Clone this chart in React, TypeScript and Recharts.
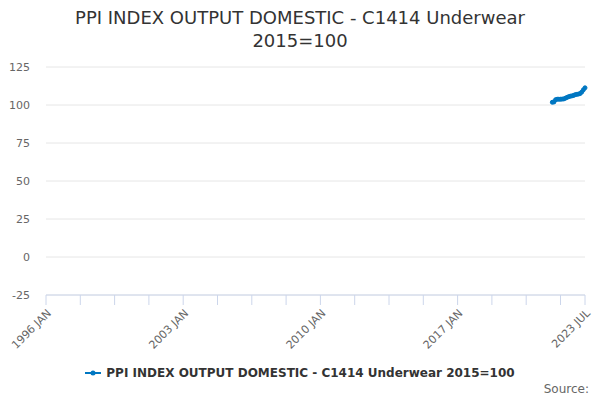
import { LineChart, Line, XAxis, YAxis, CartesianGrid } from 'recharts'

const MONTH_NAMES = ['JAN', 'FEB', 'MAR', 'APR', 'MAY', 'JUN', 'JUL', 'AUG', 'SEP', 'OCT', 'NOV', 'DEC']

const axisStart = '1996 JAN'
const axisEnd = '2023 JUL'

const months = [
  '2021 NOV', '2021 DEC', '2022 JAN', '2022 FEB', '2022 MAR', '2022 APR', '2022 MAY',
  '2022 JUN', '2022 JUL', '2022 AUG', '2022 SEP', '2022 OCT', '2022 NOV', '2022 DEC',
  '2023 JAN', '2023 FEB', '2023 MAR', '2023 APR', '2023 MAY', '2023 JUN', '2023 JUL',
]
const values = [
  101.8, 102.0, 103.5, 103.8, 103.8, 103.8, 103.9,
  104.0, 104.5, 105.0, 105.5, 105.8, 106.0, 106.3,
  106.8, 107.0, 107.2, 107.5, 108.5, 110.0, 111.3,
]

const yTicks = [-25, 0, 25, 50, 75, 100, 125]
const labelledTicks = ['1996 JAN', '2003 JAN', '2010 JAN', '2017 JAN', '2023 JUL']

const seriesName = 'PPI INDEX OUTPUT DOMESTIC - C1414 Underwear 2015=100'
const FONT = '"DejaVu Sans", sans-serif'
const BLUE = '#0077c2'

function monthIndex(label: string) {
  const [y, m] = label.split(' ')
  return parseInt(y, 10) * 12 + MONTH_NAMES.indexOf(m)
}

function monthLabel(idx: number) {
  return `${Math.floor(idx / 12)} ${MONTH_NAMES[idx % 12]}`
}

const start = monthIndex(axisStart)
const end = monthIndex(axisEnd)

// tick marks every 21 months, plus the end of the axis
const xTicks: number[] = []
for (let t = start; t < end; t += 21) xTicks.push(t)
xTicks.push(end)

const data = months.map((m, i) => ({ t: monthIndex(m), value: values[i] }))

function XTick(props: any) {
  const { x, y, payload } = props
  const label = monthLabel(payload.value)
  if (!labelledTicks.includes(label)) return null
  return (
    <g transform={`translate(${x + 3},${y + 4})`}>
      <text transform="rotate(-45)" textAnchor="end" fontSize={11} fill="#666" fontFamily={FONT} dy={4}>
        {label}
      </text>
    </g>
  )
}

export default function App() {
  return (
    <div style={{ position: 'absolute', left: 0, top: 0, width: 600, height: 400, fontFamily: FONT, background: '#fff' }}>
      <div style={{ position: 'absolute', top: 6, left: 0, width: 600, textAlign: 'center', fontSize: 18, lineHeight: '23px', color: '#333' }}>
        PPI INDEX OUTPUT DOMESTIC - C1414 Underwear
        <br />
        2015=100
      </div>
      <LineChart width={600} height={400} data={data} margin={{ top: 67, right: 15, left: 0, bottom: 75 }}>
        <CartesianGrid horizontal vertical={false} stroke="#e6e6e6" />
        <XAxis
          dataKey="t"
          type="number"
          domain={[start, end]}
          ticks={xTicks}
          interval={0}
          height={30}
          stroke="#ccd6eb"
          tickSize={10}
          tick={<XTick />}
        />
        <YAxis
          domain={[-25, 125]}
          ticks={yTicks}
          width={46}
          axisLine={false}
          tickLine={false}
          tickMargin={10}
          tick={{ fontSize: 11, fill: '#666', fontFamily: FONT }}
        />
        <Line
          dataKey="value"
          stroke={BLUE}
          strokeWidth={3}
          dot={{ r: 2, fill: BLUE, stroke: BLUE, strokeWidth: 1 }}
          isAnimationActive={false}
        />
      </LineChart>
      <div style={{ position: 'absolute', top: 366, left: 0, width: 600, display: 'flex', justifyContent: 'center', alignItems: 'center', fontSize: 12, fontWeight: 'bold', color: '#333' }}>
        <svg width={16} height={10} style={{ marginRight: 5 }}>
          <line x1={0} y1={5} x2={16} y2={5} stroke={BLUE} strokeWidth={2} />
          <circle cx={8} cy={5} r={2.5} fill={BLUE} />
        </svg>
        {seriesName}
      </div>
      <div style={{ position: 'absolute', top: 382, right: 11, fontSize: 12, color: '#666' }}>Source:</div>
    </div>
  )
}
